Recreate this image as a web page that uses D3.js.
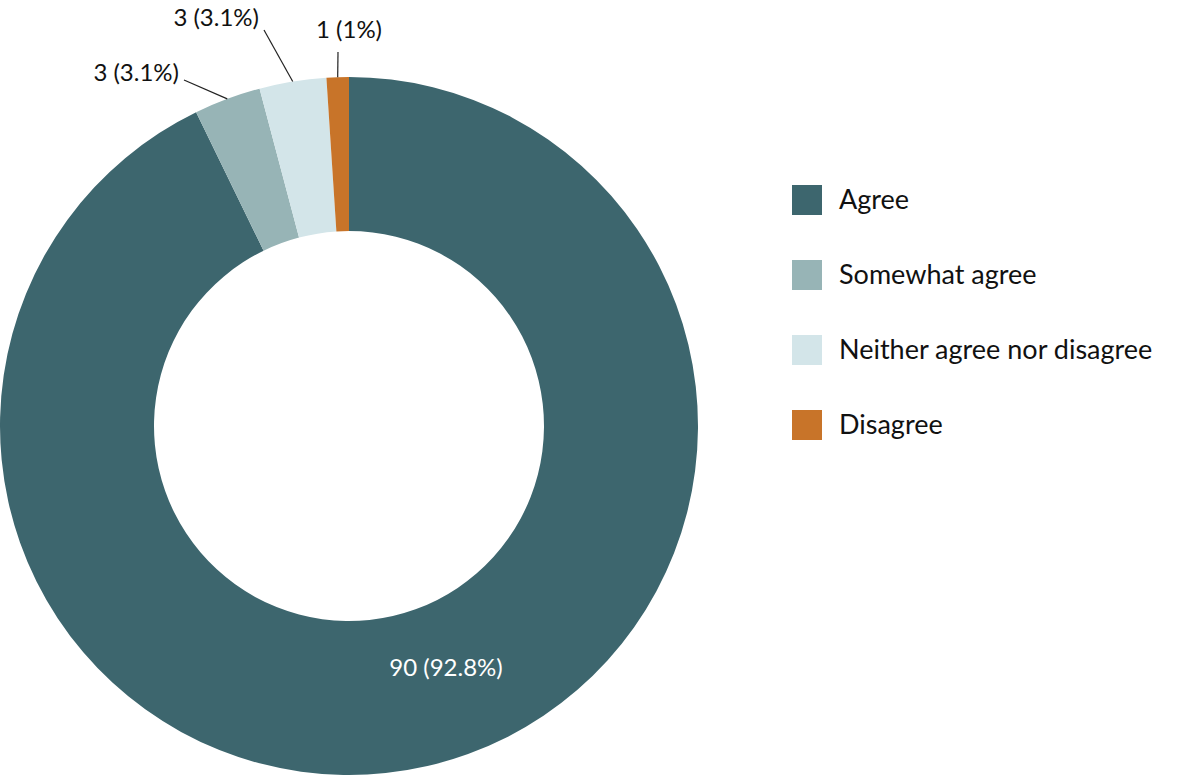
<!DOCTYPE html>
<html><head><meta charset="utf-8">
<script src="https://cdn.jsdelivr.net/npm/d3@7"></script>
<style>body{margin:0;background:#fff}text{font-family:Lato,"Open Sans",sans-serif}</style>
</head><body>
<script>
var categories = ['Agree','Somewhat agree','Neither agree nor disagree','Disagree']
var counts = [90,3,3,1]
var pcts = ['92.8%','3.1%','3.1%','1%']
var colors = ['#3d666e','#97b4b6','#d3e5e9','#c87429']

var svg = d3.select('body').append('svg').attr('width',1200).attr('height',776)
var cx = 349, cy = 426, R = 349, r0 = 195
var g = svg.append('g').attr('transform','translate('+cx+','+cy+')')

var pie = d3.pie().sort(null)
var arcs = pie(counts)
var arc = d3.arc().innerRadius(r0).outerRadius(R)

g.selectAll('path').data(arcs).enter().append('path')
  .attr('d',arc).attr('fill',function(d,i){return colors[i]})

function lbl(d,i){ return counts[i]+' ('+pcts[i]+')' }

// inside label for the big slice
g.append('text').attr('x',97).attr('y',250).attr('text-anchor','middle')
  .attr('fill','#fff').attr('font-size',24).text(lbl(arcs[0],0))

// outer labels with leader lines: end point offsets and text anchor
var outer = [null,
  {ex:-165,ey:-346,tx:-170,ty:-345,anchor:'end'},
  {ex:-85,ey:-396,tx:-90,ty:-400,anchor:'end'},
  {ex:-11,ey:-374,tx:0,ty:-388,anchor:'middle'}]
arcs.forEach(function(d,i){
  var o = outer[i]; if(!o) return
  var a = (d.startAngle+d.endAngle)/2
  var px = R*Math.sin(a), py = -R*Math.cos(a)
  g.append('line').attr('x1',px).attr('y1',py).attr('x2',o.ex).attr('y2',o.ey)
    .attr('stroke','#222').attr('stroke-width',1.2)
  g.append('text').attr('x',o.tx).attr('y',o.ty).attr('text-anchor',o.anchor)
    .attr('font-size',24).attr('fill','#111').text(lbl(d,i))
})

var leg = svg.append('g').attr('transform','translate(792,185)')
var rows = leg.selectAll('g').data(categories).enter().append('g')
  .attr('transform',function(d,i){return 'translate(0,'+(i*75)+')'})
rows.append('rect').attr('width',30).attr('height',30).attr('fill',function(d,i){return colors[i]})
rows.append('text').attr('x',47).attr('y',24).attr('font-size',27).attr('fill','#111').text(function(d){return d})
</script>
</body></html>
